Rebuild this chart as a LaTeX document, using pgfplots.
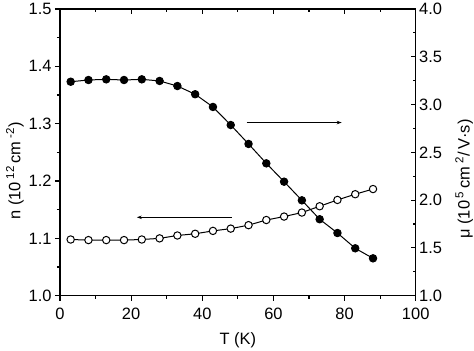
\documentclass[border=0pt]{standalone}
\usepackage{pgfplots}
\pgfplotsset{compat=1.18}
\usepackage{pgfplotstable}
\usepackage{fontspec}
\setmainfont{Liberation Sans}
\usetikzlibrary{arrows.meta}
\newcommand\ff{\fontsize{16.5}{19}\selectfont}

\pgfplotstableread{
T n mu
3 1.098 3.239
8 1.097 3.257
13 1.097 3.264
18 1.097 3.257
23 1.098 3.264
28 1.100 3.247
33 1.105 3.194
38 1.108 3.108
43 1.113 2.975
48 1.117 2.786
53 1.123 2.588
58 1.132 2.385
63 1.138 2.193
68 1.145 1.998
73 1.156 1.800
78 1.167 1.656
83 1.177 1.496
88 1.186 1.391
}\datatable

\pgfplotsset{
  common/.style={
    scale only axis, width=355.7bp, height=286.7bp,
    xmin=0, xmax=100,
    xtick={0,20,40,60,80,100}, minor x tick num=1,
    minor y tick num=1,
    major tick length=5bp, minor tick length=3bp,
    axis line style={line width=1.3bp,-},
    every tick/.style={line width=1.1bp,black},
    tick label style={font=\ff},
    label style={font=\ff},
    /pgf/number format/assume math mode=true,
  }
}

\begin{document}
\begin{tikzpicture}
\begin{axis}[common,
  ymin=1.0, ymax=1.5,
  axis x line*=bottom, axis y line*=left,
  tick align=outside,
  ytick={1.0,1.1,1.2,1.3,1.4,1.5},
  yticklabel style={/pgf/number format/.cd,fixed,fixed zerofill,precision=1},
  xticklabel style={yshift=-4bp},
  xlabel={T (K)},
  xlabel style={at={(axis description cs:0.5,-0.155)},anchor=center},
  ylabel={n (10\,\textsuperscript{12}\,cm\,\textsuperscript{-2})},
  ylabel style={at={(axis description cs:-0.1265,0.435)},anchor=center,rotate=0},
]
\addplot[black, line width=1bp, mark=*, mark size=3.7bp, mark options={fill=white, line width=1bp}] table[x=T,y=n]{\datatable};
\draw[line width=1bp, -{Stealth[length=5bp,width=3.5bp]}] (axis cs:52.5,1.302) -- (axis cs:79.2,1.302);
\draw[line width=1bp, -{Stealth[length=5bp,width=3.5bp]}] (axis cs:48.3,1.1367) -- (axis cs:21.6,1.1367);
\end{axis}
\begin{axis}[common,
  ymin=1, ymax=4,
  axis x line*=top, axis y line*=right,
  tick align=inside,
  xticklabels={},
  ytick={1,1.5,2,2.5,3,3.5,4},
  yticklabel style={/pgf/number format/.cd,fixed,fixed zerofill,precision=1},
  ylabel={μ (10\,\textsuperscript{5}\,cm\,\textsuperscript{2}/\,V·s)},
  ylabel style={at={(axis description cs:1.136,0.407)},anchor=center,rotate=0},
]
\addplot[black, line width=1bp, mark=*, mark size=3.7bp, mark options={fill=black}] table[x=T,y=mu]{\datatable};
\end{axis}
\pgfresetboundingbox
\path[use as bounding box] (-60bp,-55.3bp) rectangle (414bp,295.7bp);
\end{tikzpicture}
\end{document}
